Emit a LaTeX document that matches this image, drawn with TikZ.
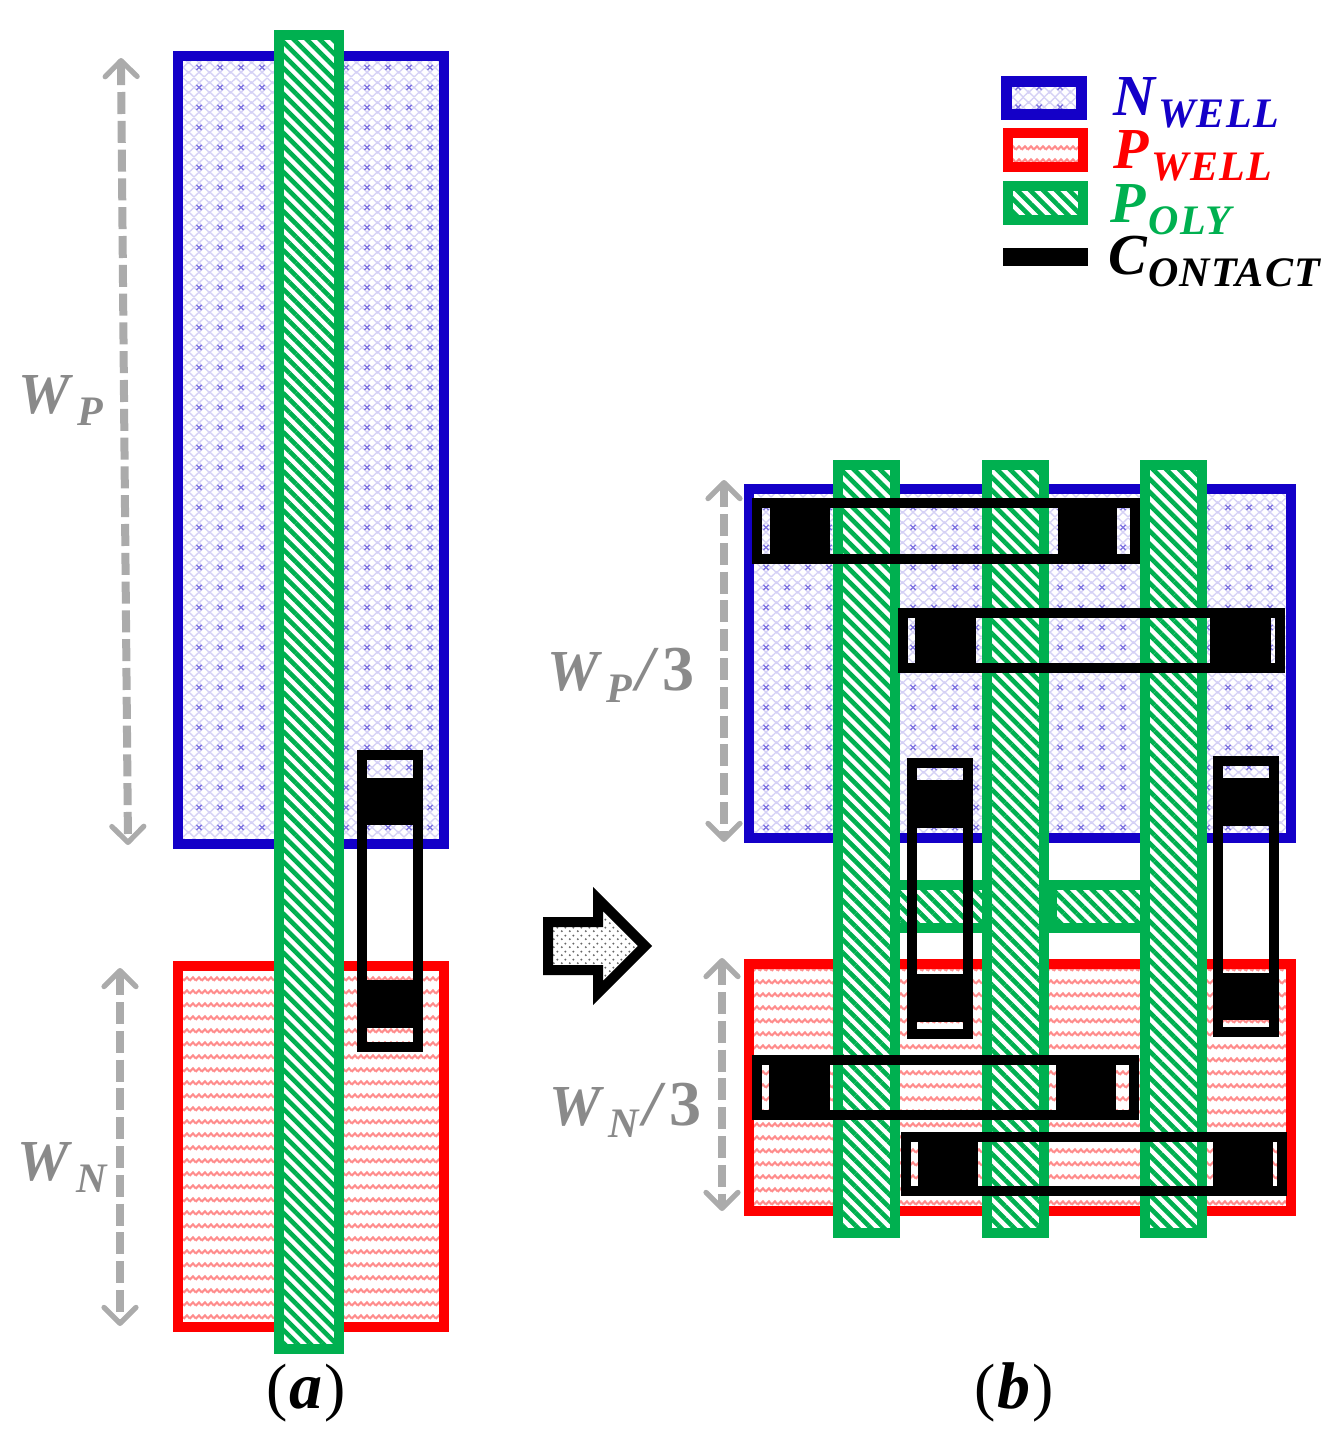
\documentclass[tikz,border=0pt]{standalone}
\usepackage{fontspec}
\setmainfont{Liberation Serif}
\usetikzlibrary{arrows.meta,patterns,patterns.meta}

\definecolor{nblue}{HTML}{1400C8}
\definecolor{pred}{HTML}{FF0000}
\definecolor{polygreen}{HTML}{00B050}
\definecolor{dimgray}{HTML}{ABABAB}
\definecolor{labelgray}{HTML}{8A8A8A}

% well fills, tile sizes follow the 0.5pt grid of the picture
\pgfdeclarepatterninherentlycolored{nwellfill}{\pgfpointorigin}{\pgfqpoint{10.5pt}{10pt}}{\pgfqpoint{10.5pt}{10pt}}{%
	\pgfsetlinewidth{0.7pt}
	\pgfsetstrokecolor{nblue!18}
	\pgfpathmoveto{\pgfqpoint{0pt}{2.5pt}}\pgfpathlineto{\pgfqpoint{2.6pt}{0pt}}
	\pgfpathmoveto{\pgfqpoint{0pt}{7.5pt}}\pgfpathlineto{\pgfqpoint{7.9pt}{0pt}}
	\pgfpathmoveto{\pgfqpoint{2.6pt}{10pt}}\pgfpathlineto{\pgfqpoint{10.5pt}{2.5pt}}
	\pgfpathmoveto{\pgfqpoint{7.9pt}{10pt}}\pgfpathlineto{\pgfqpoint{10.5pt}{7.5pt}}
	\pgfpathmoveto{\pgfqpoint{0pt}{2.5pt}}\pgfpathlineto{\pgfqpoint{7.9pt}{10pt}}
	\pgfpathmoveto{\pgfqpoint{0pt}{7.5pt}}\pgfpathlineto{\pgfqpoint{2.6pt}{10pt}}
	\pgfpathmoveto{\pgfqpoint{2.6pt}{0pt}}\pgfpathlineto{\pgfqpoint{10.5pt}{7.5pt}}
	\pgfpathmoveto{\pgfqpoint{7.9pt}{0pt}}\pgfpathlineto{\pgfqpoint{10.5pt}{2.5pt}}
	\pgfusepath{stroke}
	\pgfsetlinewidth{0.7pt}
	\pgfsetstrokecolor{nblue!55}
	\pgfpathmoveto{\pgfqpoint{3.9pt}{3.7pt}}\pgfpathlineto{\pgfqpoint{6.6pt}{6.3pt}}
	\pgfpathmoveto{\pgfqpoint{3.9pt}{6.3pt}}\pgfpathlineto{\pgfqpoint{6.6pt}{3.7pt}}
	\pgfusepath{stroke}
}
\pgfdeclarepatternformonly{pwellfill}{\pgfpointorigin}{\pgfqpoint{3.2pt}{6.35pt}}{\pgfqpoint{3.2pt}{6.35pt}}{%
	\pgfsetlinewidth{1.1pt}
	\pgfpathmoveto{\pgfqpoint{-0.4pt}{2.3pt}}
	\pgfpathlineto{\pgfqpoint{0pt}{2.3pt}}
	\pgfpathlineto{\pgfqpoint{1.6pt}{3.9pt}}
	\pgfpathlineto{\pgfqpoint{3.2pt}{2.3pt}}
	\pgfusepath{stroke}
}
\pgfdeclarepatternformonly{arrowfill}{\pgfpointorigin}{\pgfqpoint{4pt}{4pt}}{\pgfqpoint{4pt}{4pt}}{%
	\pgfpathcircle{\pgfqpoint{1pt}{1pt}}{0.6pt}
	\pgfpathcircle{\pgfqpoint{3pt}{3pt}}{0.6pt}
	\pgfusepath{fill}
}

\tikzset{
	nwell/.style={draw=nblue,line width=5pt,pattern=nwellfill},
	pwell/.style={draw=pred,line width=5pt,pattern=pwellfill,pattern color=pred!45},
	poly/.style={draw=polygreen,line width=5pt,preaction={fill=white},
		pattern={Lines[angle=-45,distance=4.6pt,line width=2.3pt]},pattern color=polygreen},
	contact/.style={draw=black,line width=5pt},
	pad/.style={fill=black},
	dimarrow/.style={draw=dimgray,line width=4pt,dash pattern=on 11pt off 3.4pt,
		{Straight Barb[length=8pt,width=16pt,line width=2.6pt,round]}-{Straight Barb[length=8pt,width=16pt,line width=2.6pt,round]}},
	biglabel/.style={anchor=base west,inner sep=0pt,font=\fontsize{29pt}{29pt}\selectfont\bfseries\itshape},
	caption/.style={anchor=base,inner sep=0pt,font=\fontsize{32pt}{32pt}\selectfont},
}
\newcommand{\sublabel}[1]{\kern1.5pt\raisebox{-6pt}{\fontsize{21pt}{21pt}\selectfont\addfontfeature{LetterSpace=3}#1}}
\newcommand{\overthree}{\fontsize{32pt}{32pt}\selectfont\kern2pt/\kern4pt\textup{3}}
\newcommand{\capletter}[1]{(\kern1pt{\fontsize{33pt}{33pt}\selectfont\bfseries\itshape #1}\kern1pt)}

\begin{document}
\begin{tikzpicture}[x=0.5pt,y=-0.5pt]
		\useasboundingbox (0,0) rectangle (1335,1437);

		% ends of the dimension arrows
		\path (121,58) coordinate (wp_t);
		\path (128,845) coordinate (wp_b);
		\path (120,968) coordinate (wn_t);
		\path (120,1326) coordinate (wn_b);
		\path (724,480) coordinate (wp3_t);
		\path (724,842) coordinate (wp3_b);
		\path (722,958) coordinate (wn3_t);
		\path (722,1211) coordinate (wn3_b);

		% (a) single finger
		\draw[nwell] (178,56) rectangle (444,844);
		\draw[pwell] (178,966) rectangle (444,1327);
		\draw[poly] (279,35) rectangle (339,1349);
		\draw[contact] (362,755) rectangle (418,1047);
		\fill[pad] (362,778) rectangle (418,825);
		\fill[pad] (362,980) rectangle (418,1028);

		% (b) three fingers
		\draw[nwell] (749,489) rectangle (1291,838);
		\draw[pwell] (749,964) rectangle (1291,1211);
		\draw[poly] (880,885) rectangle (1000,928);
		\draw[poly] (1052,885) rectangle (1160,928);
		\draw[poly] (838,465) rectangle (895,1233);
		\draw[poly] (987,465) rectangle (1044,1233);
		\draw[poly] (1145,465) rectangle (1202,1233);

		\draw[contact] (757,503) rectangle (1135,559);
		\fill[pad] (770,503) rectangle (830,559);
		\fill[pad] (1058,503) rectangle (1117,559);
		\draw[contact] (903,613) rectangle (1280,668);
		\fill[pad] (915,613) rectangle (976,668);
		\fill[pad] (1210,613) rectangle (1271,668);
		\draw[contact] (757,1060) rectangle (1134,1115);
		\fill[pad] (769,1060) rectangle (830,1115);
		\fill[pad] (1056,1060) rectangle (1116,1115);
		\draw[contact] (906,1137) rectangle (1282,1191);
		\fill[pad] (918,1137) rectangle (978,1191);
		\fill[pad] (1213,1137) rectangle (1273,1191);
		\draw[contact] (912,763) rectangle (968,1034);
		\fill[pad] (912,780) rectangle (968,828);
		\fill[pad] (912,974) rectangle (968,1022);
		\draw[contact] (1218,761) rectangle (1274,1032);
		\fill[pad] (1218,778) rectangle (1274,826);
		\fill[pad] (1218,973) rectangle (1274,1020);

		% dimensions
		\draw[dimarrow] (wp_t) -- (wp_b);
		\draw[dimarrow] (wn_t) -- (wn_b);
		\draw[dimarrow] (wp3_t) -- (wp3_b);
		\draw[dimarrow] (wn3_t) -- (wn3_b);
		\node (wp_lbl) [biglabel,text=labelgray] at (18,413) {W\kern2.5pt\sublabel{P}};
		\node (wn_lbl) [biglabel,text=labelgray] at (17,1180) {W\kern2.5pt\sublabel{N}};
		\node (wp3_lbl) [biglabel,text=labelgray] at (547,690) {W\kern2.5pt\sublabel{P}\overthree};
		\node (wn3_lbl) [biglabel,text=labelgray] at (549,1125) {W\kern2.5pt\sublabel{N}\overthree};

		% transformation arrow
		\draw[line width=5pt,miter limit=10,pattern=arrowfill,pattern color=black!60]
			(548,922) -- (598,922) -- (598,899) -- (645,946) -- (598,993) -- (598,970) -- (548,970) -- cycle;

		% legend
		\draw[nwell,line width=5.5pt] (1006,81) rectangle (1081,114);
		\draw[pwell] (1008,133) rectangle (1083,167);
		\draw[poly] (1008,186) rectangle (1083,220);
		\fill[pad] (1003,248) rectangle (1088,266);
		\node (nwell_lbl) [biglabel,text=nblue] at (1113,115) {N\sublabel{WELL}};
		\node (pwell_lbl) [biglabel,text=pred] at (1113,168) {P\sublabel{WELL}};
		\node (poly_lbl) [biglabel,text=polygreen] at (1110,222) {P\sublabel{OLY}};
		\node (contact_lbl) [biglabel,text=black] at (1108,274) {C\kern-1pt\sublabel{ONTACT}};

		% captions
		\node (cap_a) [caption] at (306,1408) {\capletter{a}};
		\node (cap_b) [caption] at (1014,1408) {\capletter{b}};
	\end{tikzpicture}
\end{document}
